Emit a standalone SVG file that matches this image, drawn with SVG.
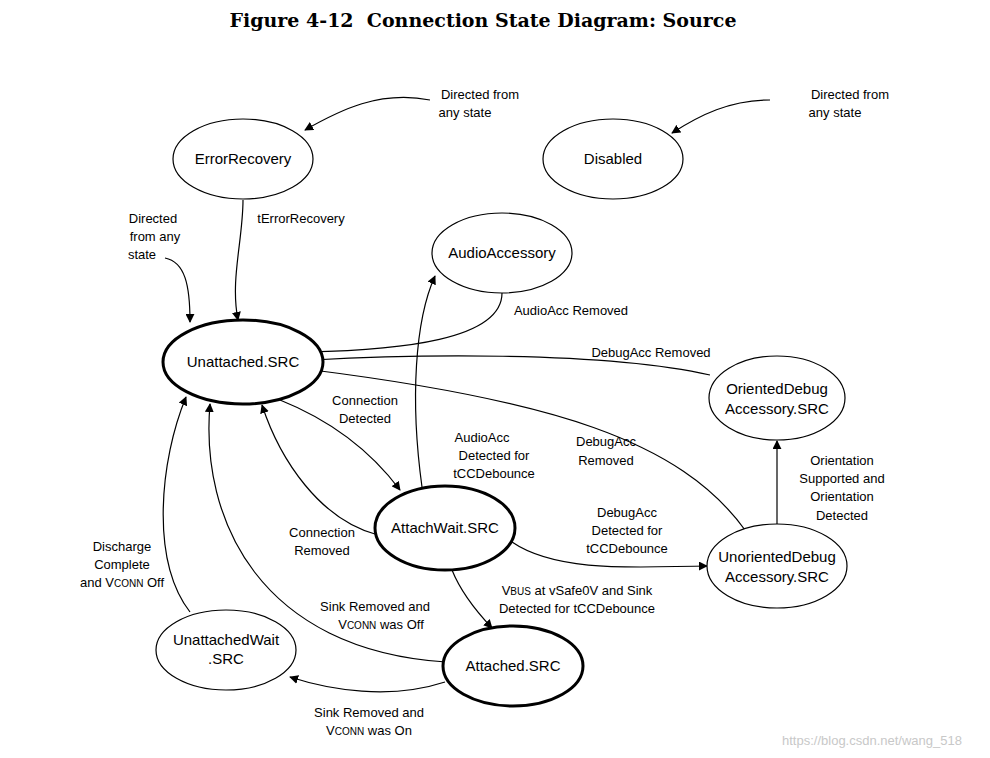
<svg xmlns="http://www.w3.org/2000/svg" width="990" height="758" viewBox="0 0 990 758">
<style>
.n{fill:#fff;stroke:#000;stroke-width:1.2}
.b{stroke-width:3}
.t{font-family:"Liberation Sans",Arial,sans-serif;font-size:15px;text-anchor:middle;fill:#000}
.l{font-family:"Liberation Sans",Arial,sans-serif;font-size:13px;text-anchor:middle;fill:#000}
.s{font-size:10px}
.c path{fill:none;stroke:#000;stroke-width:1.2;marker-end:url(#a)}
</style>
<defs><marker id="a" viewBox="0 0 10 10" refX="9" refY="5" markerWidth="9" markerHeight="9" markerUnits="userSpaceOnUse" orient="auto"><path d="M0,0L10,5L0,10z" fill="#000"/></marker></defs>
<rect width="990" height="758" fill="#fff"/>
<text x="483" y="27" style="font-family:'DejaVu Serif','Liberation Serif',serif;font-size:19px;font-weight:bold;text-anchor:middle">Figure 4-12&#160; Connection State Diagram: Source</text>
<g class="c">
<path d="M430,100 C380,90 340,110 305,130"/>
<path d="M770,100 C730,100 700,115 672,133"/>
<path d="M165,258 C185,262 190,285 190,322"/>
<path d="M243,200 C243,240 230,280 238,320"/>
<path d="M502,293 C502,340 400,350 307,352"/>
<path d="M710,375 C600,350 400,355 313,360"/>
<path d="M745,530 C680,440 550,400 313,370"/>
<path d="M280,400 C330,420 370,450 400,490"/>
<path d="M378,535 C320,520 280,460 262,405"/>
<path d="M422,487 C410,400 415,320 435,276"/>
<path d="M512,542 C560,575 650,566 707,566"/>
<path d="M777,524 C777,500 777,470 777,441"/>
<path d="M452,570 C460,590 475,610 492,628"/>
<path d="M446,662 C260,650 200,520 210,404"/>
<path d="M445,682 C390,700 330,690 290,677"/>
<path d="M190,612 C150,560 160,460 186,397"/>
</g>
<g id="errorrecovery"><ellipse class="n" cx="243" cy="159" rx="70" ry="40"/><text class="t" x="243" y="164">ErrorRecovery</text></g>
<g id="disabled"><ellipse class="n" cx="613" cy="159" rx="70" ry="40"/><text class="t" x="613" y="164">Disabled</text></g>
<g id="audioaccessory"><ellipse class="n" cx="502" cy="253" rx="70" ry="40"/><text class="t" x="502" y="258">AudioAccessory</text></g>
<g id="unattached"><ellipse class="n b" cx="243" cy="362" rx="80" ry="42"/><text class="t" x="243" y="367">Unattached.SRC</text></g>
<g id="orienteddebug"><ellipse class="n" cx="777" cy="398" rx="68" ry="42"/><text class="t" x="777" y="394">OrientedDebug</text><text class="t" x="777" y="414">Accessory.SRC</text></g>
<g id="attachwait"><ellipse class="n b" cx="445" cy="528" rx="70" ry="42"/><text class="t" x="445" y="533">AttachWait.SRC</text></g>
<g id="unorienteddebug"><ellipse class="n" cx="777" cy="566" rx="70" ry="42"/><text class="t" x="777" y="562">UnorientedDebug</text><text class="t" x="777" y="582">Accessory.SRC</text></g>
<g id="unattachedwait"><ellipse class="n" cx="226" cy="650" rx="70" ry="40"/><text class="t" x="226" y="645">UnattachedWait</text><text class="t" x="226" y="664">.SRC</text></g>
<g id="attached"><ellipse class="n b" cx="513" cy="666" rx="70" ry="40"/><text class="t" x="513" y="671">Attached.SRC</text></g>
<g id="labels">
<text class="l" x="480" y="99">Directed from</text><text class="l" x="465" y="117">any state</text>
<text class="l" x="850" y="99">Directed from</text><text class="l" x="835" y="117">any state</text>
<text class="l" x="153" y="223">Directed</text><text class="l" x="155" y="241">from any</text><text class="l" x="142" y="259">state</text>
<text class="l" x="301" y="223">tErrorRecovery</text>
<text class="l" x="571" y="315">AudioAcc Removed</text>
<text class="l" x="651" y="357">DebugAcc Removed</text>
<text class="l" x="365" y="405">Connection</text><text class="l" x="365" y="423">Detected</text>
<text class="l" x="482" y="442">AudioAcc</text><text class="l" x="494" y="460">Detected for</text><text class="l" x="494" y="478">tCCDebounce</text>
<text class="l" x="606" y="446">DebugAcc</text><text class="l" x="606" y="465">Removed</text>
<text class="l" x="842" y="465">Orientation</text><text class="l" x="842" y="483">Supported and</text><text class="l" x="842" y="501">Orientation</text><text class="l" x="842" y="520">Detected</text>
<text class="l" x="322" y="537">Connection</text><text class="l" x="322" y="555">Removed</text>
<text class="l" x="627" y="517">DebugAcc</text><text class="l" x="627" y="535">Detected for</text><text class="l" x="627" y="553">tCCDebounce</text>
<text class="l" x="122" y="551">Discharge</text><text class="l" x="122" y="569">Complete</text><text class="l" x="122" y="587">and V<tspan class="s">CONN</tspan> Off</text>
<text class="l" x="577" y="595">V<tspan class="s">BUS</tspan> at vSafe0V and Sink</text><text class="l" x="577" y="613">Detected for tCCDebounce</text>
<text class="l" x="375" y="611">Sink Removed and</text><text class="l" x="381" y="629">V<tspan class="s">CONN</tspan> was Off</text>
<text class="l" x="369" y="717">Sink Removed and</text><text class="l" x="369" y="735">V<tspan class="s">CONN</tspan> was On</text>
<text x="872" y="745" style="font-family:'Liberation Sans',sans-serif;font-size:13px;fill:#c8c8c8;text-anchor:middle">https://blog.csdn.net/wang_518</text>
</g>
</svg>
